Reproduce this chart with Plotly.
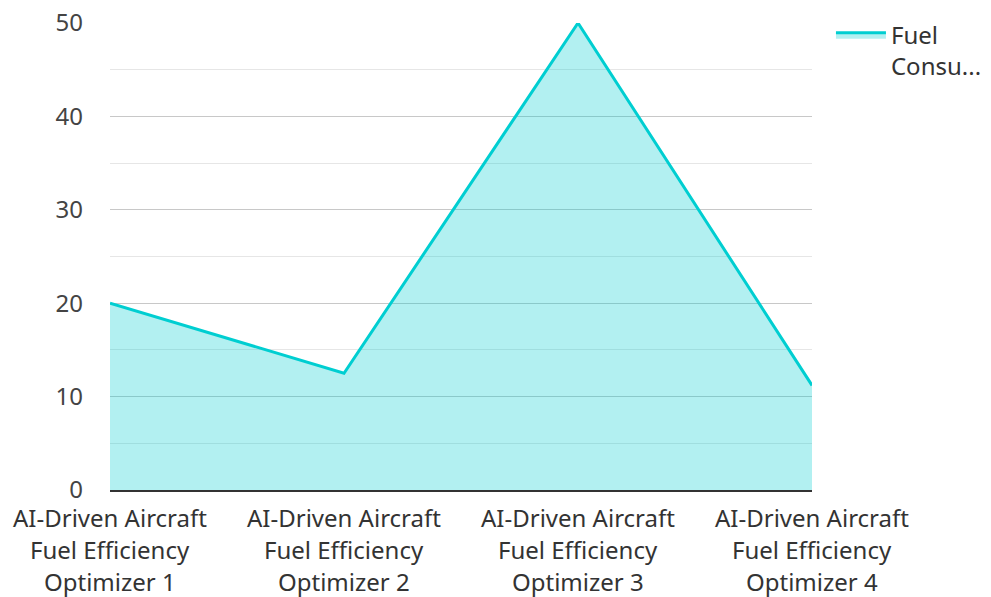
import plotly.graph_objects as go

categories = ["AI-Driven Aircraft Fuel Efficiency Optimizer 1",
              "AI-Driven Aircraft Fuel Efficiency Optimizer 2",
              "AI-Driven Aircraft Fuel Efficiency Optimizer 3",
              "AI-Driven Aircraft Fuel Efficiency Optimizer 4"]
label_lines = [["AI-Driven Aircraft", "Fuel Efficiency", "Optimizer 1"],
               ["AI-Driven Aircraft", "Fuel Efficiency", "Optimizer 2"],
               ["AI-Driven Aircraft", "Fuel Efficiency", "Optimizer 3"],
               ["AI-Driven Aircraft", "Fuel Efficiency", "Optimizer 4"]]
fuel_consumption = [20, 12.5, 50, 11.2]
series_name = "Fuel<br>Consu..."
y_ticks = [0, 10, 20, 30, 40, 50]

FONT = "Noto Sans"
FS = 24
fig = go.Figure()
fig.add_trace(go.Scatter(
    x=list(range(len(categories))), y=fuel_consumption,
    mode="lines", name=series_name,
    line=dict(color="#00CED1", width=3),
    fill="tozeroy", fillcolor="rgba(0,206,209,0.3)",
))

annotations = []
for i, lines in enumerate(label_lines):
    for j, t in enumerate(lines):
        annotations.append(dict(
            x=i, y=0, xref="x", yref="paper", text=t, showarrow=False,
            yanchor="middle", xanchor="center", yshift=-27 - 32 * j,
            borderpad=0,
            font=dict(family=FONT, size=FS, color="#333333")))

fig.update_layout(
    width=991, height=597,
    margin=dict(l=102, r=187, t=15, b=115, autoexpand=False),
    paper_bgcolor="white", plot_bgcolor="white",
    font=dict(family=FONT, size=FS, color="#444444"),
    showlegend=True,
    legend=dict(x=1.027, y=1.022, xanchor="left", yanchor="top",
                valign="top",
                font=dict(family=FONT, size=FS, color="#333333"),
                itemwidth=50),
    annotations=annotations,
    xaxis=dict(range=[0, 3], showticklabels=False, showgrid=False,
               zeroline=False, showline=True, linecolor="#333333", linewidth=2,
               tickvals=list(range(len(categories)))),
    yaxis=dict(range=[0, 50], tickvals=y_ticks, showgrid=True,
               gridcolor="#c8c8c8", gridwidth=1, zeroline=False,
               ticklabelstandoff=26, ticklabeloverflow="allow",
               minor=dict(dtick=5, showgrid=True, gridcolor="#e6e6e6", gridwidth=1),
               tickfont=dict(family=FONT, size=FS, color="#444444")),
)

fig.write_html("out.html")
